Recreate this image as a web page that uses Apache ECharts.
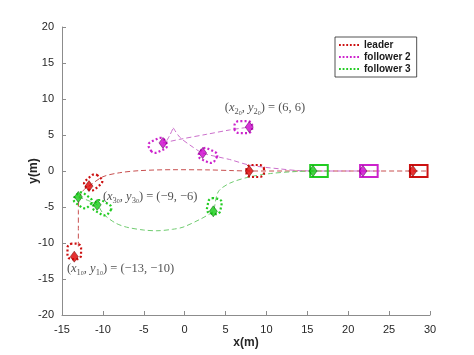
<!DOCTYPE html>
<html><head><meta charset="utf-8">
<script src="https://cdn.jsdelivr.net/npm/echarts@6/dist/echarts.min.js"></script>
<style>html,body{margin:0;padding:0;background:#fff}#c{width:474px;height:355px}</style>
</head><body><div id="c"></div>
<script>
// ---- data ----
const agentNames = ['leader', 'follower 2', 'follower 3'];

// trajectories [x, y]
const leaderPath = [[-13,-10.5],[-13,-8],[-13,-5.5],[-12.9,-3.8],[-12.4,-2.7],[-11.7,-2.1],[-10,-0.8],[-8,-0.25],[-5.5,0.05],[-1.5,0.18],[3,0.15],[6,0.05],[8,0],[12,0],[20,0],[29.7,0]];
const follower2PathA = [[-2.65,3.9],[-0.6,4.4],[2.7,5.1],[5.5,5.7],[7.9,6.1]];
const follower2PathB = [[-2.2,4.2],[-1.8,5.0],[-1.4,6.0]];
const follower2PathC = [[-1.4,6.0],[-0.6,4.7],[0.65,3.6],[2.2,2.5],[4.3,1.9],[5.5,1.6],[8,0.8],[11.6,0.3],[14,0.05],[17,0],[23.9,0]];
const follower3Path = [[-13,-3.6],[-11.8,-4.1],[-10.7,-4.7],[-9.9,-6.0],[-8.5,-7.2],[-7.1,-7.8],[-5,-8.2],[-3.4,-8.3],[-1.5,-8.1],[-0.2,-7.8],[1.9,-6.7],[3.0,-6.0],[3.5,-5.6],[4.1,-2.9],[5.5,-1.7],[8,-0.8],[10.5,-0.35],[13.2,-0.1],[16,0],[17.9,0]];

// vehicle poses [x, y, heading(deg), final(1)/intermediate(0)]
const leaderPoses = [[-13.5,-11.9,90,0],[-11.7,-2.1,45,0],[7.9,0,0,0],[27.9,0,0,1]];
const follower2Poses = [[7.9,6.1,180,0],[-2.65,3.9,208,0],[2.2,2.5,-28,0],[21.8,0,0,1]];
const follower3Poses = [[-13.0,-3.6,-41,0],[-10.7,-4.7,-33,0],[3.5,-5.6,80,0],[15.7,0,0,1]];

// annotation anchors [x, y] and texts
const annotAnchors = [[4.9,8.75],[-10.0,-3.6],[-14.4,-13.6]];
const annotTexts = [
  '{t|(}{i|x}{s|2}{ss|0}{t|, }{i|y}{s|2}{ss|0}{t|) = (6, 6)}',
  '{t|(}{i|x}{s|3}{ss|0}{t|, }{i|y}{s|3}{ss|0}{t|) = (−9, −6)}',
  '{t|(}{i|x}{s|1}{ss|0}{t|, }{i|y}{s|1}{ss|0}{t|) = (−13, −10)}'
];

const xTicks = { min: -15, max: 30, interval: 5 };
const yTicks = { min: -20, max: 20, interval: 5 };

// ---- styles ----
const markColors = ['#dd0000', '#cc00cc', '#11cc11'];
const edgeColors = ['#660000', '#550055', '#005500'];
const outlineColors = ['#cc1111', '#cc22cc', '#22cc22'];
const pathColors = ['#c85050', '#cc70cc', '#70cc70'];

function outlinePoints(api, x, y, hDeg, r) {
  const uMin = -0.35, uMax = 1.8, vMin = -0.83, vMax = 0.83;
  const pts = [];
  const corners = [[uMax - r, vMax - r, 0], [uMin + r, vMax - r, 90], [uMin + r, vMin + r, 180], [uMax - r, vMin + r, 270]];
  const h = hDeg * Math.PI / 180, c = Math.cos(h), s = Math.sin(h);
  corners.forEach(([cu, cv, a0]) => {
    const n = r > 0 ? 8 : 1;
    for (let k = 0; k < n; k++) {
      const a = (a0 + (r > 0 ? 90 * k / (n - 1) : 0)) * Math.PI / 180;
      const u = cu + r * Math.cos(a), v = cv + r * Math.sin(a);
      pts.push(api.coord([x + u * c - v * s, y + u * s + v * c]));
    }
  });
  return pts;
}
function vehicleRenderer(color) {
  return function (params, api) {
    const fin = api.value(3) === 1;
    const pts = outlinePoints(api, api.value(0), api.value(1), api.value(2), fin ? 0 : 0.55);
    return {
      type: 'polygon', shape: { points: pts },
      style: { fill: 'transparent', stroke: color, lineWidth: fin ? 2 : 2.2, lineDash: fin ? null : [2, 2.2] }
    };
  };
}
function pathSeries(data, color) {
  return { type: 'line', data: data, showSymbol: false, symbol: 'none', smooth: 0.3, silent: true,
    lineStyle: { color: color, width: 1, type: [5, 3] }, z: 2 };
}
const poseSets = [leaderPoses, follower2Poses, follower3Poses];
const series = [
  pathSeries(leaderPath, pathColors[0]),
  pathSeries(follower2PathA, pathColors[1]),
  pathSeries(follower2PathB, pathColors[1]),
  pathSeries(follower2PathC, pathColors[1]),
  pathSeries(follower3Path, pathColors[2])
];
poseSets.forEach((poses, i) => {
  series.push({ name: agentNames[i], type: 'custom', data: poses, encode: { x: 0, y: 1 },
    itemStyle: { color: outlineColors[i] }, renderItem: vehicleRenderer(outlineColors[i]), z: 3, silent: true });
  series.push({ type: 'scatter', data: poses.map(p => [p[0], p[1]]), symbol: 'diamond', symbolSize: [8, 11],
    itemStyle: { color: markColors[i], borderColor: edgeColors[i], borderWidth: 0.6 }, z: 4, silent: true });
});
const annotFont = 'Liberation Serif';
series.push({ type: 'scatter', silent: true, symbolSize: 0, z: 5,
  data: annotAnchors.map((a, i) => ({ value: a, label: { formatter: annotTexts[i] } })),
  label: { show: true, position: 'right', distance: 0, color: '#262626',
    rich: {
      t: { fontFamily: annotFont, fontSize: 12.5, lineHeight: 16, color: '#262626' },
      i: { fontFamily: annotFont, fontStyle: 'italic', fontSize: 12.5, lineHeight: 16, color: '#262626' },
      s: { fontFamily: annotFont, fontSize: 8.5, lineHeight: 8, verticalAlign: 'bottom', color: '#262626' },
      ss: { fontFamily: annotFont, fontSize: 6, lineHeight: 3, verticalAlign: 'bottom', color: '#262626' }
    } } });

const dotIcon = 'path://M0,0h2v2h-2zM4,0h2v2h-2zM8,0h2v2h-2zM12,0h2v2h-2zM16,0h2v2h-2zM20,0h2v2h-2z';
const axisCommon = {
  axisLine: { show: true, onZero: false, lineStyle: { color: '#8c8c8c', width: 1 } },
  axisTick: { show: true, inside: true, length: 4, lineStyle: { color: '#8c8c8c' } },
  splitLine: { show: false },
  nameLocation: 'middle',
  nameMoveOverlap: false,
  nameTextStyle: { fontFamily: 'Liberation Sans', fontWeight: 'bold', fontSize: 12, color: '#262626' }
};
const chart = echarts.init(document.getElementById('c'), null, { renderer: 'canvas' });
chart.setOption({
  animation: false,
  backgroundColor: '#fff',
  grid: { left: 62, right: 44, top: 27, bottom: 40, containLabel: false },
  xAxis: Object.assign({ type: 'value', min: xTicks.min, max: xTicks.max, interval: xTicks.interval, name: 'x(m)', nameGap: 22,
    axisLabel: { margin: 9, fontFamily: 'Liberation Sans', fontSize: 11, color: '#262626' } }, axisCommon),
  yAxis: Object.assign({ type: 'value', min: yTicks.min, max: yTicks.max, interval: yTicks.interval, name: 'y(m)', nameGap: 22,
    axisLabel: { margin: 8, fontFamily: 'Liberation Sans', fontSize: 11, color: '#262626' } }, axisCommon),
  legend: {
    orient: 'vertical', left: 335, top: 37, padding: [3, 6, 3, 4], itemGap: 2,
    itemWidth: 20, itemHeight: 2.5, itemTextGap: 8,
    backgroundColor: '#fff', borderColor: '#262626', borderWidth: 0.8, borderRadius: 0,
    textStyle: { fontFamily: 'Liberation Sans', fontWeight: 'bold', fontSize: 10, color: '#1a1a1a' },
    data: agentNames.map((n, i) => ({ name: n, icon: dotIcon, itemStyle: { color: outlineColors[i] } })),
    selectedMode: false
  },
  series: series
});
</script></body></html>
